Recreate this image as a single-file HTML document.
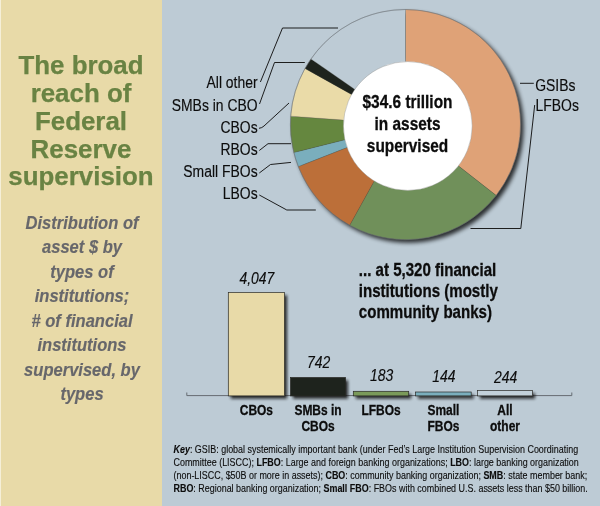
<!DOCTYPE html>
<html><head><meta charset="utf-8"><title>The broad reach of Federal Reserve supervision</title>
<style>
html,body{margin:0;padding:0;background:#BDCBD5;}
body{width:600px;height:506px;overflow:hidden;font-family:"Liberation Sans",Arial,Helvetica,sans-serif;}
svg{display:block;font-family:"Liberation Sans",Arial,Helvetica,sans-serif;}
</style></head><body>
<svg width="600" height="506" viewBox="0 0 600 506">
<defs>
<filter id="sh" x="-10%" y="-10%" width="125%" height="125%"><feGaussianBlur stdDeviation="2.0"/></filter>
<filter id="sh3" x="-20%" y="-60%" width="140%" height="220%"><feGaussianBlur stdDeviation="1.5"/></filter>
<filter id="sh2" x="-20%" y="-50%" width="140%" height="250%"><feGaussianBlur stdDeviation="1.2"/></filter>
</defs>

<rect x="0" y="0" width="600" height="506" fill="#BDCBD5"/>
<rect x="0" y="0" width="162" height="506" fill="#E8DAA8"/>
<rect x="0" y="0" width="1" height="506" fill="#F5EFD8"/>
<text x="81" y="73.9" font-size="25.9" font-weight="bold" text-anchor="middle" fill="#698343" stroke="#698343" stroke-width="0.25">The broad</text>
<text x="81" y="101.8" font-size="25.9" font-weight="bold" text-anchor="middle" fill="#698343" stroke="#698343" stroke-width="0.25">reach of</text>
<text x="81" y="129.6" font-size="25.9" font-weight="bold" text-anchor="middle" fill="#698343" stroke="#698343" stroke-width="0.25">Federal</text>
<text x="81" y="157.8" font-size="25.9" font-weight="bold" text-anchor="middle" fill="#698343" stroke="#698343" stroke-width="0.25">Reserve</text>
<text x="81" y="185.0" font-size="25.9" font-weight="bold" text-anchor="middle" fill="#698343" stroke="#698343" stroke-width="0.25">supervision</text>
<text transform="translate(82,228.8) scale(0.93,1)" font-size="17.8" text-anchor="middle" font-weight="bold" font-style="italic" fill="#67676B" stroke="#67676B" stroke-width="0.15" >Distribution of</text>
<text transform="translate(82,253.3) scale(0.93,1)" font-size="17.8" text-anchor="middle" font-weight="bold" font-style="italic" fill="#67676B" stroke="#67676B" stroke-width="0.15" >asset $ by</text>
<text transform="translate(82,277.7) scale(0.93,1)" font-size="17.8" text-anchor="middle" font-weight="bold" font-style="italic" fill="#67676B" stroke="#67676B" stroke-width="0.15" >types of</text>
<text transform="translate(82,302.2) scale(0.93,1)" font-size="17.8" text-anchor="middle" font-weight="bold" font-style="italic" fill="#67676B" stroke="#67676B" stroke-width="0.15" >institutions;</text>
<text transform="translate(82,326.7) scale(0.93,1)" font-size="17.8" text-anchor="middle" font-weight="bold" font-style="italic" fill="#67676B" stroke="#67676B" stroke-width="0.15" ># of financial</text>
<text transform="translate(82,351.1) scale(0.93,1)" font-size="17.8" text-anchor="middle" font-weight="bold" font-style="italic" fill="#67676B" stroke="#67676B" stroke-width="0.15" >institutions</text>
<text transform="translate(82,375.6) scale(0.93,1)" font-size="17.8" text-anchor="middle" font-weight="bold" font-style="italic" fill="#67676B" stroke="#67676B" stroke-width="0.15" >supervised, by</text>
<text transform="translate(82,400.1) scale(0.93,1)" font-size="17.8" text-anchor="middle" font-weight="bold" font-style="italic" fill="#67676B" stroke="#67676B" stroke-width="0.15" >types</text>
<path d="M408.5,12.5 a115.1,115.1 0 1 1 -0.01,0 Z M407.8,61.599999999999994 a64.4,64.4 0 1 0 0.01,0 Z" fill="#000" fill-rule="evenodd" filter="url(#sh)" opacity="0.78"/>
<path d="M405.5,124.6 L405.50,9.50 A115.1,115.1 0 0 1 496.20,195.46 Z" fill="#DFA277" stroke="#55554a" stroke-width="0.22" stroke-linejoin="round"/>
<path d="M405.5,124.6 L496.20,195.46 A115.1,115.1 0 0 1 349.70,225.27 Z" fill="#70905A" stroke="#55554a" stroke-width="0.22" stroke-linejoin="round"/>
<path d="M405.5,124.6 L349.70,225.27 A115.1,115.1 0 0 1 298.34,166.60 Z" fill="#BC6F39" stroke="#55554a" stroke-width="0.22" stroke-linejoin="round"/>
<path d="M405.5,124.6 L298.34,166.60 A115.1,115.1 0 0 1 293.82,152.45 Z" fill="#7AAEBD" stroke="#55554a" stroke-width="0.22" stroke-linejoin="round"/>
<path d="M405.5,124.6 L293.82,152.45 A115.1,115.1 0 0 1 290.71,116.17 Z" fill="#65873F" stroke="#55554a" stroke-width="0.22" stroke-linejoin="round"/>
<path d="M405.5,124.6 L290.71,116.17 A115.1,115.1 0 0 1 305.03,68.45 Z" fill="#EADBA8" stroke="#55554a" stroke-width="0.22" stroke-linejoin="round"/>
<path d="M405.5,124.6 L305.03,68.45 A115.1,115.1 0 0 1 310.99,58.91 Z" fill="#1E231D" stroke="#55554a" stroke-width="0.22" stroke-linejoin="round"/>
<path d="M405.5,124.6 L310.99,58.91 A115.1,115.1 0 0 1 405.50,9.50 Z" fill="#BDCBD5" stroke="#55554a" stroke-width="0.22" stroke-linejoin="round"/>
<circle cx="405.5" cy="124.6" r="115.1" fill="none" stroke="#6a7078" stroke-width="0.5"/>
<circle cx="407.8" cy="126.0" r="64.4" fill="#fff" stroke="#8c8c88" stroke-width="0.4"/>
<text transform="translate(407.5,108.3) scale(0.82,1)" font-size="18.8" text-anchor="middle" font-weight="bold" font-style="normal" fill="#0c0c0c" stroke="#0c0c0c" stroke-width="0.3" >$34.6 trillion</text>
<text transform="translate(407.5,130.3) scale(0.82,1)" font-size="18.8" text-anchor="middle" font-weight="bold" font-style="normal" fill="#0c0c0c" stroke="#0c0c0c" stroke-width="0.3" >in assets</text>
<text transform="translate(407.5,152.4) scale(0.82,1)" font-size="18.8" text-anchor="middle" font-weight="bold" font-style="normal" fill="#0c0c0c" stroke="#0c0c0c" stroke-width="0.3" >supervised</text>
<text transform="translate(257.6,88) scale(0.82,1)" font-size="17" text-anchor="end" font-weight="normal" font-style="normal" fill="#0c0c0c" stroke="#0c0c0c" stroke-width="0.15" >All other</text>
<text transform="translate(257.6,110.5) scale(0.82,1)" font-size="17" text-anchor="end" font-weight="normal" font-style="normal" fill="#0c0c0c" stroke="#0c0c0c" stroke-width="0.15" >SMBs in CBO</text>
<text transform="translate(257.6,132.7) scale(0.82,1)" font-size="17" text-anchor="end" font-weight="normal" font-style="normal" fill="#0c0c0c" stroke="#0c0c0c" stroke-width="0.15" >CBOs</text>
<text transform="translate(257.6,154.6) scale(0.82,1)" font-size="17" text-anchor="end" font-weight="normal" font-style="normal" fill="#0c0c0c" stroke="#0c0c0c" stroke-width="0.15" >RBOs</text>
<text transform="translate(257.6,177) scale(0.82,1)" font-size="17" text-anchor="end" font-weight="normal" font-style="normal" fill="#0c0c0c" stroke="#0c0c0c" stroke-width="0.15" >Small FBOs</text>
<text transform="translate(257.6,199.3) scale(0.82,1)" font-size="17" text-anchor="end" font-weight="normal" font-style="normal" fill="#0c0c0c" stroke="#0c0c0c" stroke-width="0.15" >LBOs</text>
<text transform="translate(535.2,90.8) scale(0.82,1)" font-size="17" text-anchor="start" font-weight="normal" font-style="normal" fill="#0c0c0c" stroke="#0c0c0c" stroke-width="0.15" >GSIBs</text>
<text transform="translate(535.5,111.2) scale(0.82,1)" font-size="17" text-anchor="start" font-weight="normal" font-style="normal" fill="#0c0c0c" stroke="#0c0c0c" stroke-width="0.15" >LFBOs</text>
<path d="M260.4,82 L282.5,28 L338,28" fill="none" stroke="#141414" stroke-width="0.95"/>
<path d="M259.5,104 L274.5,62.5 L304.8,62.5" fill="none" stroke="#141414" stroke-width="0.95"/>
<path d="M259,128.3 Q262,128 264,126 L289,103" fill="none" stroke="#141414" stroke-width="0.95"/>
<path d="M259.3,150.5 L268,143.7 L291,143.7" fill="none" stroke="#141414" stroke-width="0.95"/>
<path d="M259.3,173 L270.5,164.5 L291,162.4" fill="none" stroke="#141414" stroke-width="0.95"/>
<path d="M259.3,195 L286.8,210 L315.8,210" fill="none" stroke="#141414" stroke-width="0.95"/>
<path d="M520,83.3 L533.8,83.3" fill="none" stroke="#141414" stroke-width="0.95"/>
<path d="M534.7,105 L520.8,228.5 L470.5,228.5" fill="none" stroke="#141414" stroke-width="0.95"/>
<text transform="translate(358.8,275.9) scale(0.82,1)" font-size="18.4" text-anchor="start" font-weight="bold" font-style="normal" fill="#0c0c0c" stroke="#0c0c0c" stroke-width="0.3" >... at 5,320 financial</text>
<text transform="translate(358.8,297.1) scale(0.82,1)" font-size="18.4" text-anchor="start" font-weight="bold" font-style="normal" fill="#0c0c0c" stroke="#0c0c0c" stroke-width="0.3" >institutions (mostly</text>
<text transform="translate(358.8,318.3) scale(0.82,1)" font-size="18.4" text-anchor="start" font-weight="bold" font-style="normal" fill="#0c0c0c" stroke="#0c0c0c" stroke-width="0.3" >community banks)</text>
<path d="M188,397.4 L573,397.4" stroke="#20252b" stroke-width="1.6" fill="none" filter="url(#sh2)" opacity="0.7"/>
<path d="M186.8,392.5 L186.8,395.6 L571.8,395.6 L571.8,392.5" stroke="#666c72" stroke-width="1" fill="none"/>
<rect x="230.8" y="295.3" width="56.19999999999999" height="103.39999999999998" fill="#0a0c10" filter="url(#sh3)" opacity="0.85"/>
<rect x="228.3" y="292.5" width="56.19999999999999" height="103.39999999999998" fill="#E8DAA8" stroke="#2a2a25" stroke-width="0.7"/>
<text transform="translate(256.9,283.8) scale(0.82,1)" font-size="17" text-anchor="middle" font-weight="normal" font-style="italic" fill="#0c0c0c" stroke="#0c0c0c" stroke-width="0.15" >4,047</text>
<text transform="translate(256.4,414.6) scale(0.82,1)" font-size="14.6" text-anchor="middle" font-weight="bold" font-style="normal" fill="#0c0c0c" stroke="#0c0c0c" stroke-width="0.3" >CBOs</text>
<rect x="293.0" y="380.3" width="55.0" height="18.399999999999977" fill="#0a0c10" filter="url(#sh3)" opacity="0.85"/>
<rect x="290.5" y="377.5" width="55.0" height="18.399999999999977" fill="#1E231D" stroke="#2a2a25" stroke-width="0.7"/>
<text transform="translate(318.5,368) scale(0.82,1)" font-size="17" text-anchor="middle" font-weight="normal" font-style="italic" fill="#0c0c0c" stroke="#0c0c0c" stroke-width="0.15" >742</text>
<text transform="translate(318.0,414.6) scale(0.82,1)" font-size="14.6" text-anchor="middle" font-weight="bold" font-style="normal" fill="#0c0c0c" stroke="#0c0c0c" stroke-width="0.3" >SMBs in</text>
<text transform="translate(318.0,431.0) scale(0.82,1)" font-size="14.6" text-anchor="middle" font-weight="bold" font-style="normal" fill="#0c0c0c" stroke="#0c0c0c" stroke-width="0.3" >CBOs</text>
<rect x="355.8" y="394.1" width="55.39999999999998" height="4.599999999999966" fill="#0a0c10" filter="url(#sh3)" opacity="0.85"/>
<rect x="353.3" y="391.3" width="55.39999999999998" height="4.599999999999966" fill="#7A9A5A" stroke="#2a2a25" stroke-width="0.7"/>
<text transform="translate(381.5,380.5) scale(0.82,1)" font-size="17" text-anchor="middle" font-weight="normal" font-style="italic" fill="#0c0c0c" stroke="#0c0c0c" stroke-width="0.15" >183</text>
<text transform="translate(381.0,414.6) scale(0.82,1)" font-size="14.6" text-anchor="middle" font-weight="bold" font-style="normal" fill="#0c0c0c" stroke="#0c0c0c" stroke-width="0.3" >LFBOs</text>
<rect x="418.0" y="394.8" width="55.69999999999999" height="3.8999999999999773" fill="#0a0c10" filter="url(#sh3)" opacity="0.85"/>
<rect x="415.5" y="392" width="55.69999999999999" height="3.8999999999999773" fill="#7AAEBD" stroke="#2a2a25" stroke-width="0.7"/>
<text transform="translate(443.9,381.5) scale(0.82,1)" font-size="17" text-anchor="middle" font-weight="normal" font-style="italic" fill="#0c0c0c" stroke="#0c0c0c" stroke-width="0.15" >144</text>
<text transform="translate(443.4,414.6) scale(0.82,1)" font-size="14.6" text-anchor="middle" font-weight="bold" font-style="normal" fill="#0c0c0c" stroke="#0c0c0c" stroke-width="0.3" >Small</text>
<text transform="translate(443.4,431.0) scale(0.82,1)" font-size="14.6" text-anchor="middle" font-weight="bold" font-style="normal" fill="#0c0c0c" stroke="#0c0c0c" stroke-width="0.3" >FBOs</text>
<rect x="480.0" y="393.3" width="55.0" height="5.399999999999977" fill="#0a0c10" filter="url(#sh3)" opacity="0.85"/>
<rect x="477.5" y="390.5" width="55.0" height="5.399999999999977" fill="#C3D1DA" stroke="#2a2a25" stroke-width="0.7"/>
<text transform="translate(505.5,383) scale(0.82,1)" font-size="17" text-anchor="middle" font-weight="normal" font-style="italic" fill="#0c0c0c" stroke="#0c0c0c" stroke-width="0.15" >244</text>
<text transform="translate(505.0,414.6) scale(0.82,1)" font-size="14.6" text-anchor="middle" font-weight="bold" font-style="normal" fill="#0c0c0c" stroke="#0c0c0c" stroke-width="0.3" >All</text>
<text transform="translate(505.0,431.0) scale(0.82,1)" font-size="14.6" text-anchor="middle" font-weight="bold" font-style="normal" fill="#0c0c0c" stroke="#0c0c0c" stroke-width="0.3" >other</text>
<text transform="translate(173.5,452.9) scale(0.828,1)" font-size="10.8" text-anchor="start" font-weight="normal" font-style="normal" fill="#0c0c0c" stroke="#0c0c0c" stroke-width="0.12" id="k0"><tspan font-weight="bold" font-style="italic">Key</tspan>: GSIB: global systemically important bank (under Fed’s Large Institution Supervision Coordinating</text>
<text transform="translate(173.5,465.9) scale(0.828,1)" font-size="10.8" text-anchor="start" font-weight="normal" font-style="normal" fill="#0c0c0c" stroke="#0c0c0c" stroke-width="0.12" id="k1">Committee (LISCC); <tspan font-weight="bold">LFBO</tspan>: Large and foreign banking organizations; <tspan font-weight="bold">LBO</tspan>: large banking organization</text>
<text transform="translate(173.5,479.0) scale(0.828,1)" font-size="10.8" text-anchor="start" font-weight="normal" font-style="normal" fill="#0c0c0c" stroke="#0c0c0c" stroke-width="0.12" id="k2">(non-LISCC, $50B or more in assets); <tspan font-weight="bold">CBO</tspan>: community banking organization; <tspan font-weight="bold">SMB</tspan>: state member bank;</text>
<text transform="translate(173.5,492.0) scale(0.828,1)" font-size="10.8" text-anchor="start" font-weight="normal" font-style="normal" fill="#0c0c0c" stroke="#0c0c0c" stroke-width="0.12" id="k3"><tspan font-weight="bold">RBO</tspan>: Regional banking organization; <tspan font-weight="bold">Small FBO</tspan>: FBOs with combined U.S. assets less than $50 billion.</text>
</svg></body></html>
